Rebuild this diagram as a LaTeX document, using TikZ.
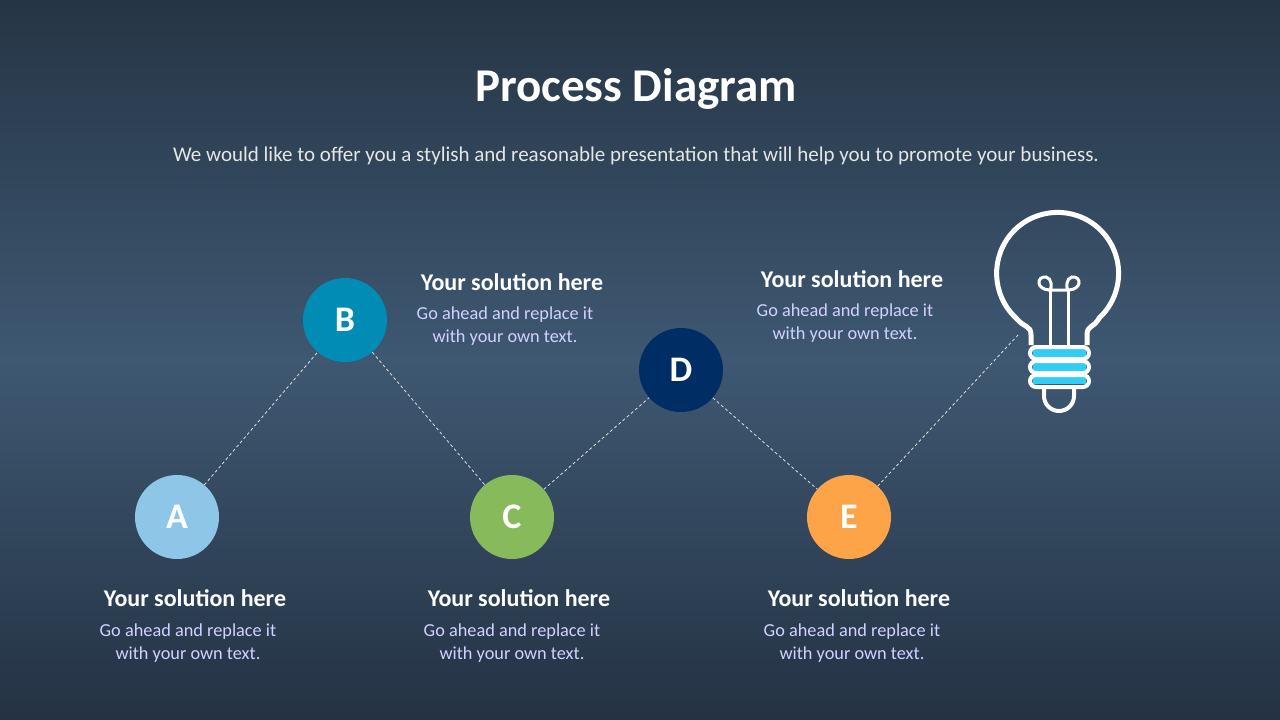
\documentclass[tikz,border=0pt]{standalone}
\usepackage{fontspec}
\setmainfont{Carlito}
\definecolor{bgtop}{HTML}{263545}
\definecolor{bgmid}{HTML}{3E5872}
\definecolor{bgbot}{HTML}{243243}
\definecolor{cA}{RGB}{142,198,232}
\definecolor{cB}{RGB}{0,140,180}
\definecolor{cC}{RGB}{134,186,90}
\definecolor{cD}{RGB}{0,45,100}
\definecolor{cE}{RGB}{253,163,72}
\definecolor{cyanb}{RGB}{50,205,245}
\begin{document}
\begin{tikzpicture}[x=1pt,y=-1pt,
  dot/.style={circle,minimum size=84pt,inner sep=0pt,text=white,font=\bfseries\fontsize{36}{36}\selectfont},
  conn/.style={draw=white!75!gray,dash pattern=on 3pt off 2.5pt,line width=0.8pt},
  head/.style={text=white,font=\bfseries\fontsize{24}{26}\selectfont},
  body/.style={text=white!82!blue,align=center,font=\fontsize{18.3}{23.5}\selectfont},
  bulb/.style={draw=white,line width=5pt}]
\shade[top color=bgtop,bottom color=bgmid] (0,0) rectangle (1280,360);
\shade[top color=bgmid,bottom color=bgbot] (0,360) rectangle (1280,720);
\useasboundingbox (0,0) rectangle (1280,720);
\node[text=white,font=\bfseries\fontsize{47}{50}\selectfont] (title) at (636,89) {Process Diagram};
\node[text=white!80!gray,font=\fontsize{21}{24}\selectfont] (sub) at (636,156) {We would like to offer you a stylish and reasonable presentation that will help you to promote your business.};
\node[dot,fill=cA] (A) at (177,517) {A};
\node[dot,fill=cB] (B) at (345,320) {B};
\node[dot,fill=cC] (C) at (512,517) {C};
\node[dot,fill=cD] (D) at (681,370) {D};
\node[dot,fill=cE] (E) at (849,517) {E};
\coordinate (L) at (1018,335);
\draw[conn] (A) -- (B);
\draw[conn] (B) -- (C);
\draw[conn] (C) -- (D);
\draw[conn] (D) -- (E);
\draw[conn] (E) -- (L);
\node[head] (hA) at (195,598) {Your solution here};
\node[body] (bA) at (188,643) {Go ahead and replace it\\with your own text.};
\node[head] (hB) at (512,282) {Your solution here};
\node[body] (bB) at (505,326) {Go ahead and replace it\\with your own text.};
\node[head] (hC) at (519,598) {Your solution here};
\node[body] (bC) at (512,643) {Go ahead and replace it\\with your own text.};
\node[head] (hD) at (852,279) {Your solution here};
\node[body] (bD) at (845,323) {Go ahead and replace it\\with your own text.};
\node[head] (hE) at (859,598) {Your solution here};
\node[body] (bE) at (852,643) {Go ahead and replace it\\with your own text.};
% bulb
\fill[cyanb] (1033,346) rectangle (1086,384);
\draw[bulb,line join=round] (1031,345) -- (1031,335) .. controls (1031,325) and (1024,328) .. (1016,318)
  arc[start angle=133,end angle=407,radius=61] .. controls (1094,328) and (1087,325) .. (1087,335) -- (1087,345);
\foreach \yy in {353,367,381}{
  \draw[white,line width=4pt,rounded corners=6pt] (1030,\yy-6) rectangle (1089,\yy+6);
  \fill[cyanb] (1034,\yy-3) rectangle (1085,\yy+3);
}
\draw[white,line width=4pt] (1044,388) -- (1044,396) arc[start angle=180,end angle=0,radius=15] -- (1074,388);
\draw[white,line width=3pt] (1050,345) -- (1050,290) (1068,345) -- (1068,290);
\draw[white,line width=3pt] (1050,290) .. controls (1036,290) and (1036,276) .. (1046,277) .. controls (1052,278) and (1052,288) .. (1050,290)
  -- (1068,290) .. controls (1066,288) and (1066,278) .. (1072,277) .. controls (1082,276) and (1082,290) .. (1068,290);
\end{tikzpicture}
\end{document}
